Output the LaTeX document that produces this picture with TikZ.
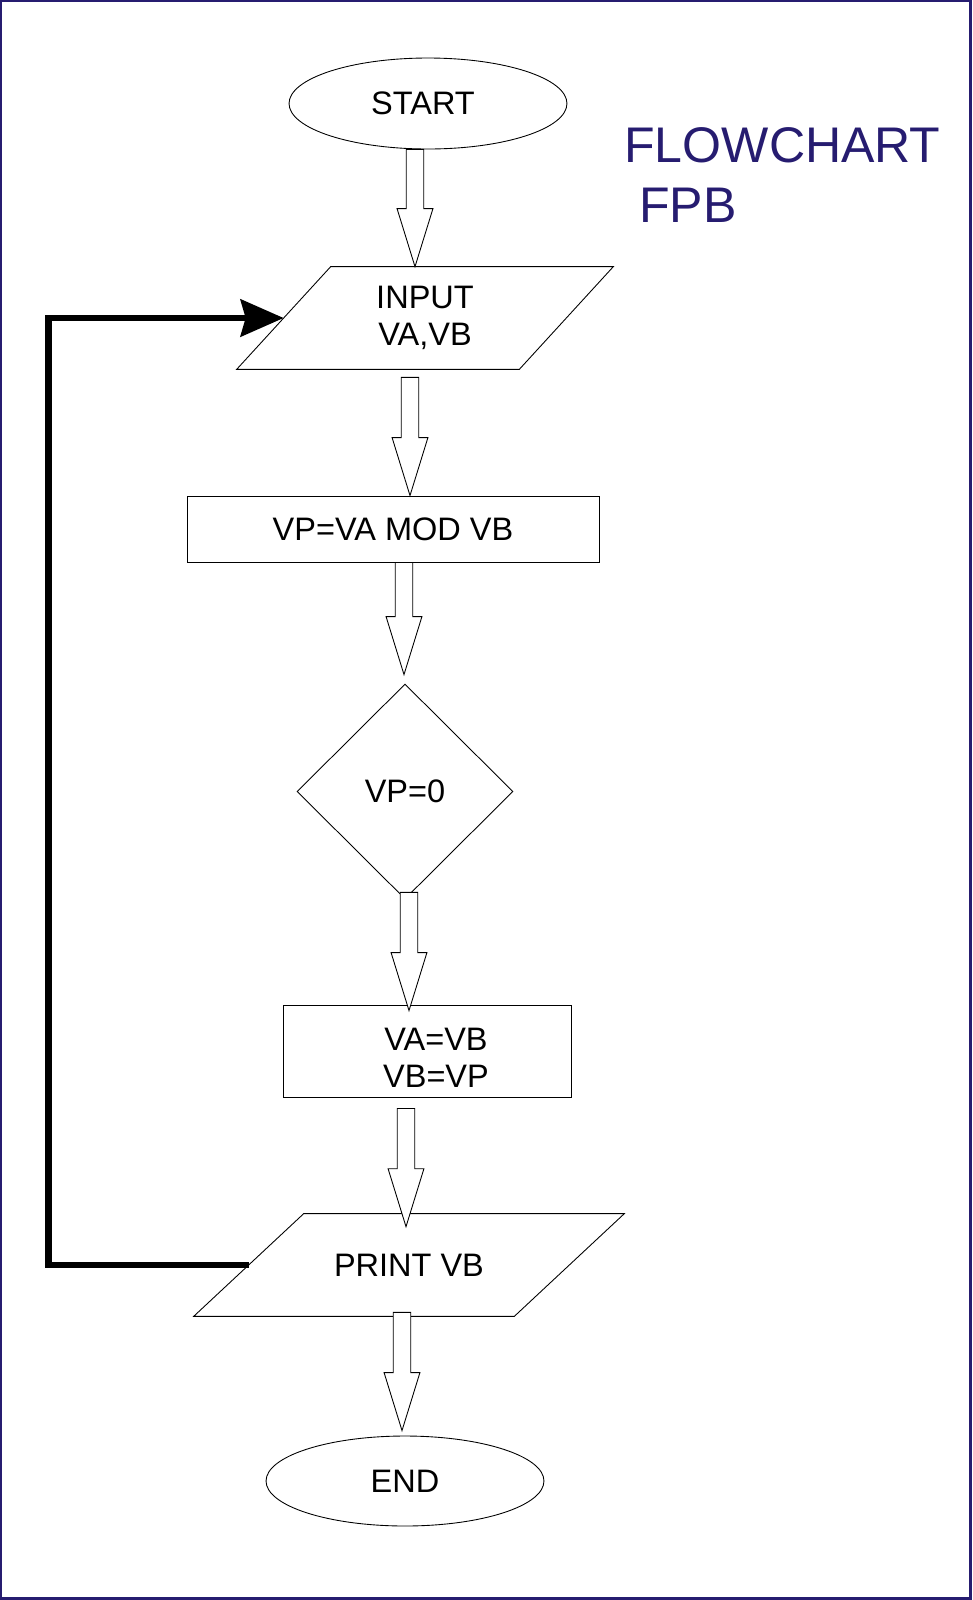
\documentclass[tikz,border=0pt]{standalone}
\usepackage{fontspec}
\setmainfont{Liberation Sans}
\usetikzlibrary{calc,positioning,shapes.geometric,arrows.meta}
\definecolor{navy}{RGB}{38,28,112}
\tikzset{
txt/.style={font=\fontsize{18.5}{21}\selectfont,align=center,inner sep=0pt},
term/.style={txt,draw,line width=0.5pt,ellipse,minimum width=5.56cm,minimum height=1.82cm},
io/.style={txt,rectangle,minimum height=2.04cm},
proc/.style={txt,draw,line width=0.5pt,rectangle},
outline/.style={line width=0.5pt,line join=miter},
blockarrow/.style={draw,line width=0.5pt,fill=white,to path={let \p1=(\tikztostart),\p2=(\tikztotarget) in
 (\x1-5pt,\y1)--(\x1+5pt,\y1)--(\x1+5pt,\y2+33pt)--(\x1+10.2pt,\y2+33pt)--(\x1,\y2)--(\x1-10.2pt,\y2+33pt)--(\x1-5pt,\y2+33pt)--cycle}},
loopline/.style={line width=3.7pt,-{Stealth[length=0.86cm,width=0.74cm,inset=0.1cm]}},
title/.style={font=\fontsize{28.5}{34}\selectfont,text=navy,anchor=base west,inner sep=0pt}
}
\newcommand\lowered[1]{\raisebox{-0.14cm}[\height][\depth]{\hspace*{0.36cm}#1}}
\begin{document}
\begin{tikzpicture}[x=0.02cm,y=-0.02cm]
\useasboundingbox(0,0)rectangle(973,1600);
\draw[navy,line width=0.06cm](1,0.5)rectangle(970.5,1598.5);
\node[term](start)at(428,103.5){START\hspace*{0.2cm}};
\node[io,minimum width=7.52cm](input)at(425,318){INPUT\\VA,VB};
\draw[outline]([xshift=1.88cm]input.north west)--(input.north east)--([xshift=-1.88cm]input.south east)--(input.south west)--cycle;
\node[proc,minimum width=8.24cm,minimum height=1.32cm](vpmod)at(393,529){VP=VA MOD VB};
\node[txt,draw,line width=0.5pt,diamond,minimum width=4.32cm,minimum height=4.3cm](test)at(405,791.5){VP=0};
\node[proc,minimum width=5.76cm,minimum height=1.84cm](swap)at(427,1051){\lowered{VA=VB}\\\lowered{VB=VP}};
\node[io,minimum width=8.6cm](print)at(409,1265){PRINT VB};
\draw[outline]([xshift=2.2cm]print.north west)--(print.north east)--([xshift=-2.2cm]print.south east)--(print.south west)--cycle;
\node[term,minimum height=1.8cm](stop)at(405,1481){END};
\node[title](head)at(624,162){FLOWCHART};
\node[title](fpb)at(639,222){FPB};
\draw[blockarrow]([xshift=-0.26cm]start.south)to(input.north);
\draw[blockarrow]([xshift=-0.3cm,yshift=-0.16cm]input.south)to(vpmod.north);
\draw[blockarrow]([xshift=0.22cm]vpmod.south)to([yshift=0.18cm]test.north);
\draw[blockarrow]([xshift=0.08cm,yshift=0.14cm]test.south)to([yshift=-0.12cm]swap.north);
\draw[blockarrow]([xshift=-0.42cm,yshift=-0.22cm]swap.south)to([yshift=-0.26cm]print.north);
\draw[blockarrow]([xshift=-0.14cm,yshift=0.08cm]print.south)to([yshift=0.1cm]stop.north);
\draw[loopline]([xshift=1.1cm]print.west)--++(-200,0)|-([xshift=0.94cm]input.west);
\end{tikzpicture}
\end{document}
